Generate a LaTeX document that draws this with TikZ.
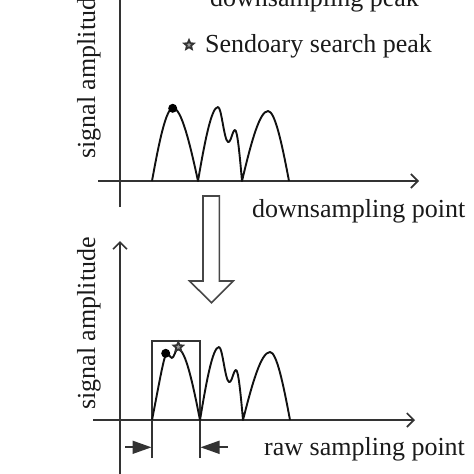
\documentclass[tikz,border=0pt]{standalone}
\usepackage{fontspec}
\setmainfont{Liberation Serif}
\usetikzlibrary{arrows.meta,shapes.geometric}
\definecolor{axisgray}{HTML}{333333}
\definecolor{curveblk}{HTML}{111111}
\definecolor{txtcol}{HTML}{1A1A1A}
\definecolor{starfill}{HTML}{9A9A9A}
\tikzset{
  axis/.style={draw=axisgray,line width=1.7pt,-{Straight Barb[length=7pt,width=14pt,line width=1.6pt]}},
  plainline/.style={draw=axisgray,line width=1.7pt},
  curve/.style={draw=curveblk,line width=1.9pt,line join=round},
  lbl/.style={inner sep=0pt,text=txtcol,font=\fontsize{26}{30}\selectfont},
  dotmark/.style={circle,fill=black,inner sep=0pt,minimum size=9pt},
  starmark/.style={star,star points=5,star point ratio=2.2,draw=axisgray,fill=starfill,line width=1.7pt,inner sep=0pt,minimum size=10pt},
  pointer/.style={draw=axisgray,line width=1.7pt,-{Triangle[length=19pt,width=13pt]},fill=axisgray},
  bigarrow/.style={draw=axisgray!90,line width=1.6pt,fill=white,line join=miter}
}
\begin{document}
\begin{tikzpicture}[x=1pt,y=-1pt]
\useasboundingbox (0,0) rectangle (474,474);
\clip (0,0) rectangle (474,474);
\fill[white] (0,0) rectangle (474,474);

% ---------- top panel ----------
\coordinate (tyb) at (120,207);
\coordinate (tyt) at (120,-10);
\coordinate (txl) at (98,181);
\coordinate (txr) at (419,181);
\draw[plainline] (tyb) -- (tyt);
\draw[axis] (txl) -- (txr);

\draw[curve] (152,181) .. controls (158.8,143.6) and (165.9,108) .. (173,108)
  .. controls (181.4,108) and (189.9,143.6) .. (198,181)
  .. controls (204.5,143.1) and (211.3,107) .. (218,107)
  .. controls (221.5,107) and (224,140) .. (228,142)
  .. controls (231,143) and (232.5,130) .. (235,130)
  .. controls (237.4,130) and (239.7,154.9) .. (242,181)
  .. controls (250.5,145.2) and (259.3,111) .. (268,111)
  .. controls (275.1,111) and (282.2,145.2) .. (289,181);

\node[dotmark] (tdot) at (172.7,108.3) {};

\node[lbl,anchor=base west] (legdown) at (210,6) {downsampling peak};
\node[starmark] (legstar) at (189,45) {};
\node[lbl,anchor=base west] (legsec) at (205,52) {Sendoary search peak};
\node[lbl,anchor=base west,rotate=90] (tylabel) at (95,159) {signal amplitude};
\node[lbl,anchor=base west] (txlabel) at (252,217) {downsampling point};

% ---------- hollow arrow ----------
\draw[bigarrow] (203,196) -- (219.3,196) -- (219.3,281) -- (233.3,281) -- (211.5,302.7)
  -- (189.5,281) -- (203,281) -- cycle;

% ---------- bottom panel ----------
\coordinate (byb) at (120,480);
\coordinate (byt) at (120,241);
\coordinate (bxl) at (93,420);
\coordinate (bxr) at (415,420);
\draw[axis] (byb) -- (byt);
\draw[axis] (bxl) -- (bxr);

\coordinate (wl) at (152,458);
\coordinate (wtl) at (152,341);
\coordinate (wtr) at (200,341);
\coordinate (wr) at (200,458);
\draw[plainline] (wl) -- (wtl) -- (wtr) -- (wr);

\draw[curve] (152,420) .. controls (157,395) and (163,360) .. (166,354)
  .. controls (168,351) and (170,358) .. (172,358)
  .. controls (174,358) and (175.5,349) .. (178,349)
  .. controls (185.4,349) and (192.8,383.4) .. (200,420)
  .. controls (206.2,382.6) and (212.6,347) .. (219,347)
  .. controls (222.5,347) and (225,380) .. (229,382)
  .. controls (232,383) and (233.5,370) .. (236,370)
  .. controls (238.4,370) and (240.7,394.4) .. (243,420)
  .. controls (251.8,385.2) and (260.9,352) .. (270,352)
  .. controls (276.7,352) and (283.5,385.2) .. (290,420);

\node[dotmark] (bdot) at (165.7,353.3) {};
\node[starmark] (bstar) at (178.3,347) {};

\coordinate (pl) at (125,447.3);
\coordinate (pr) at (227.5,447.3);
\draw[pointer] (pl) -- (151.5,447.3);
\draw[pointer] (pr) -- (200.5,447.3);

\node[lbl,anchor=base west,rotate=90] (bylabel) at (95,410) {signal amplitude};
\node[lbl,anchor=base west] (bxlabel) at (264,455) {raw sampling point};
\end{tikzpicture}
\end{document}
